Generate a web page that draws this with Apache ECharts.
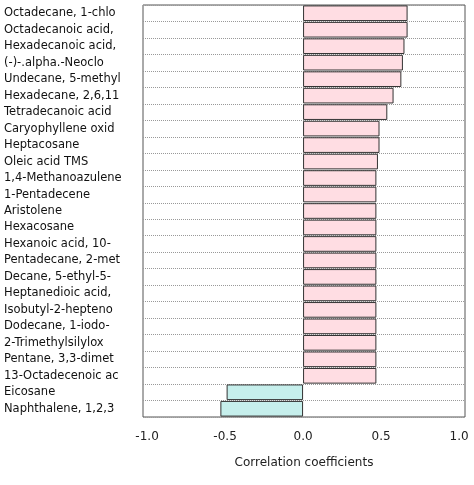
<!DOCTYPE html>
<html><head><meta charset="utf-8">
<script src="https://cdn.jsdelivr.net/npm/echarts@6/dist/echarts.min.js"></script>
<style>html,body{margin:0;padding:0;background:#fff}#c{width:474px;height:485px}</style>
</head><body><div id="c"></div>
<script>
const categories = ["Octadecane, 1-chlo","Octadecanoic acid,","Hexadecanoic acid,","(-)-.alpha.-Neoclo","Undecane, 5-methyl","Hexadecane, 2,6,11","Tetradecanoic acid","Caryophyllene oxid","Heptacosane","Oleic acid TMS","1,4-Methanoazulene","1-Pentadecene","Aristolene","Hexacosane","Hexanoic acid, 10-","Pentadecane, 2-met","Decane, 5-ethyl-5-","Heptanedioic acid,","Isobutyl-2-hepteno","Dodecane, 1-iodo-","2-Trimethylsilylox","Pentane, 3,3-dimet","13-Octadecenoic ac","Eicosane","Naphthalene, 1,2,3"];
const values = [0.67,0.67,0.65,0.64,0.63,0.58,0.54,0.49,0.49,0.48,0.47,0.47,0.47,0.47,0.47,0.47,0.47,0.47,0.47,0.47,0.47,0.47,0.47,-0.49,-0.53];
const xTicks = [-1.0,-0.5,0.0,0.5,1.0];
const chart = echarts.init(document.getElementById('c'));
chart.setOption({
  animation:false,
  grid:{left:143,right:9,top:5,bottom:68,show:true,borderColor:'#555',borderWidth:1},
  xAxis:{type:'value',min:-1.026,max:1.038,
    name:'Correlation coefficients',nameLocation:'middle',nameGap:40,
    nameTextStyle:{fontFamily:'DejaVu Sans',fontSize:12,color:'#222'},
    axisLine:{show:false},axisTick:{show:false},splitLine:{show:false},
    axisLabel:{fontFamily:'DejaVu Sans',fontSize:12,color:'#222',margin:14,
      customValues:xTicks,formatter:v=>v.toFixed(1)},
  },
  yAxis:{type:'category',data:categories,inverse:true,
    axisLine:{show:false},axisTick:{show:false},
    splitLine:{show:true,interval:0,lineStyle:{type:'dotted',color:'#999'}},
    axisLabel:{interval:0,fontFamily:'DejaVu Sans',fontSize:11.5,color:'#111',align:'left',margin:139}},
  series:[{type:'bar',barWidth:'95%',
    data:values.map(v=>({value:v,itemStyle:{color:v>=0?'#ffdde3':'#c6efec',borderColor:'#333',borderWidth:1}}))}]
});
</script></body></html>
